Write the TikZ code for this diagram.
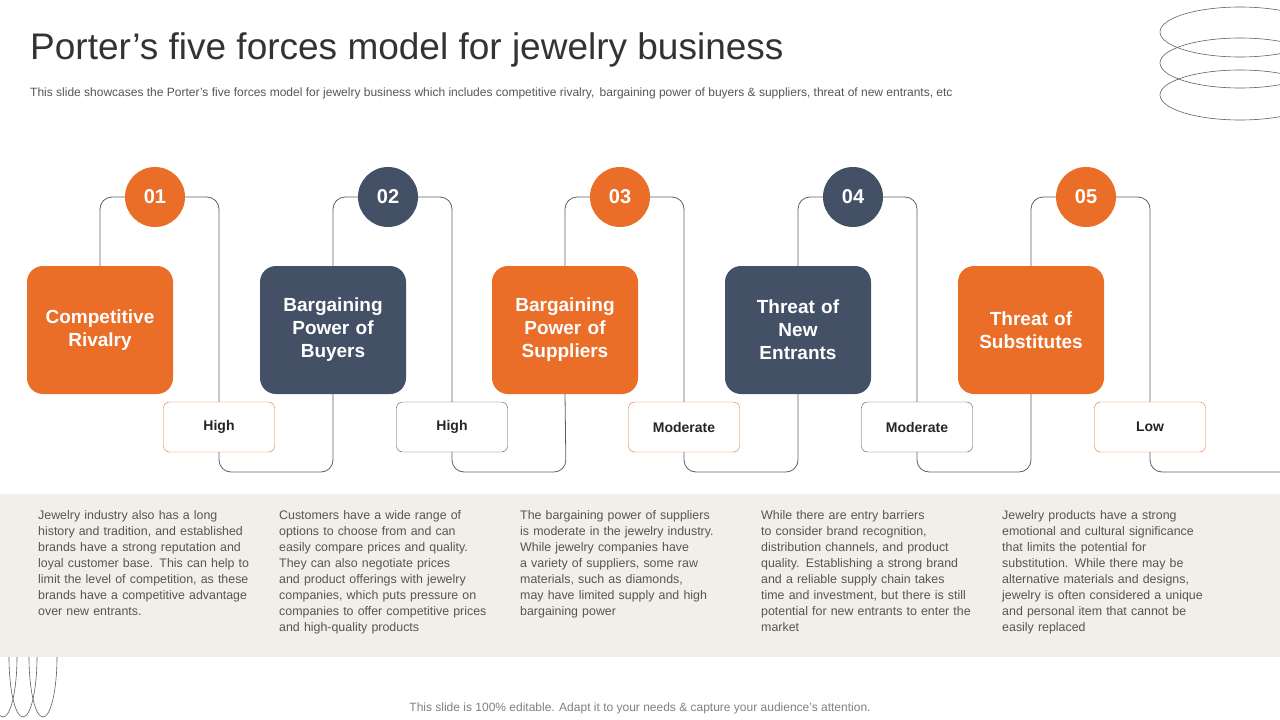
\documentclass[tikz,border=0pt]{standalone}
\usepackage{fontspec}
\setmainfont{Liberation Sans}
\usetikzlibrary{positioning}
\definecolor{porange}{HTML}{EA6D28}
\definecolor{pnavy}{HTML}{435066}
\definecolor{pline}{HTML}{5A5F6A}
\definecolor{pband}{HTML}{F1EFE7}
\definecolor{ptext}{HTML}{555555}
\newcommand\nohyph{\hyphenpenalty=10000 \exhyphenpenalty=10000\relax}
\tikzset{
  num/.style={circle,minimum size=60pt,inner sep=0,text=white,font=\fontsize{20}{20}\selectfont\bfseries},
  force/.style={rounded corners=16pt,minimum width=146pt,minimum height=128pt,text width=136pt,align=center,
    text=white,font=\fontsize{19}{23}\selectfont\bfseries},
  level/.style={draw,rounded corners=6pt,fill=white,minimum width=111pt,minimum height=50pt,
    font=\fontsize{14}{14}\selectfont\bfseries,text=black!85},
  link/.style={pline,line width=0.8pt,rounded corners=12pt},
  desc/.style={anchor=north west,text width=212pt,align=left,text=ptext,
    font=\fontsize{12.4}{16}\selectfont,execute at begin node=\nohyph,inner sep=0},
}
\begin{document}
\begin{tikzpicture}[x=1pt,y=-1pt]
  \useasboundingbox (0,0) rectangle (1280,720);
  % decoration
  \foreach \cy in {32,63,95} \draw[pline,line width=0.6pt] (1240,\cy) ellipse (80 and 25);
  \foreach \cx in {3,23,43} \draw[pline,line width=0.6pt] (\cx,657) ellipse (14 and 60);
  \fill[pband] (0,494) rectangle (1280,657);

  % title
  \node[anchor=west,inner sep=0,text=black!80,font=\fontsize{37}{37}\selectfont] (title) at (30,50) {Porter’s five forces model for jewelry business};
  \node[anchor=west,inner sep=0,text=ptext,font=\fontsize{12}{12}\selectfont] (sub) at (30,93) {This slide showcases the Porter’s five forces model for jewelry business which includes competitive rivalry,\, bargaining power of buyers \& suppliers, threat of new entrants, etc};

  % forces
  \foreach \i/\x/\col/\name/\lvl in {1/100/porange/{Competitive\\Rivalry}/High,
      2/333/pnavy/{Bargaining\\Power of\\Buyers}/High,
      3/565/porange/{Bargaining\\Power of\\Suppliers}/Moderate,
      4/798/pnavy/{Threat of\\New\\Entrants}/Moderate,
      5/1031/porange/{Threat of\\Substitutes}/Low} {
    \node[force,fill=\col] (f\i) at (\x,330) {\name};
    \node[num,fill=\col] (n\i) at (\x+55,197) {0\i};
    \node[level,draw=\col] (l\i) at (\x+119,427) {\lvl};
    \coordinate (e\i) at (\x+233,472);
  }
  \coordinate (end) at (1280,472);

  % connectors
  \foreach \i in {1,...,5} {
    \draw[link] (f\i.north) |- (n\i.west);
    \draw[link] (n\i.east) -| (l\i.north);
  }
  \foreach \i/\j in {1/2,2/3,3/4,4/5} \draw[link] (l\i.south) |- (e\i) -- (f\j.south);
  \draw[link] (l5.south) |- (end);

  % descriptions
  \node[desc] (d1) at (38,510) {Jewelry industry also has a long history and tradition, and established brands have a strong reputation and loyal customer base. This can help to limit the level of competition, as these brands have a competitive advantage over new entrants.};
  \node[desc] (d2) at (279,510) {Customers have a wide range of options to choose from and can easily compare prices and quality. They can also negotiate prices and product offerings with jewelry companies, which puts pressure on companies to offer competitive prices and high-quality products};
  \node[desc] (d3) at (520,510) {The bargaining power of suppliers is moderate in the jewelry industry. While jewelry companies have a variety of suppliers, some raw materials, such as diamonds, may have limited supply and high bargaining power};
  \node[desc] (d4) at (761,510) {While there are entry barriers to consider brand recognition, distribution channels, and product quality. Establishing a strong brand and a reliable supply chain takes time and investment, but there is still potential for new entrants to enter the market};
  \node[desc] (d5) at (1002,510) {Jewelry products have a strong emotional and cultural significance that limits the potential for substitution. While there may be alternative materials and designs, jewelry is often considered a unique and personal item that cannot be easily replaced};

  % footer
  \node[text=gray,font=\fontsize{12}{12}\selectfont] (foot) at (640,708) {This slide is 100\% editable. Adapt it to your needs \& capture your audience’s attention.};
\end{tikzpicture}
\end{document}
